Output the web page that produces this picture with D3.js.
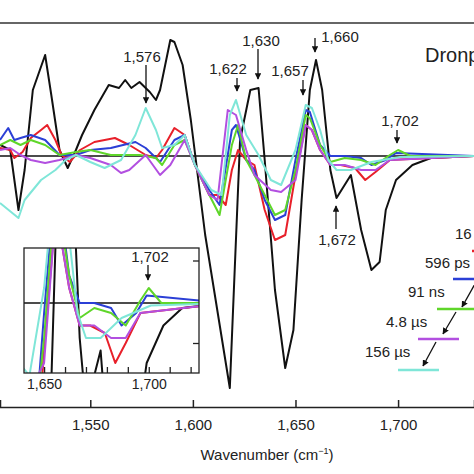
<!doctype html>
<html>
<head>
<script src="https://d3js.org/d3.v7.min.js"></script>
<style>
  body { margin: 0; background: #fff; }
  text { font-family: "Liberation Sans", Arial, sans-serif; fill: #222; }
</style>
</head>
<body>
<div id="chart"></div>
<script>
// spectra: wavenumber (cm-1) and difference signal (arb. units)
var blackW = [1506,1511,1515,1518,1522,1528,1531,1535,1539,1543,1546,1552,1559,1564,1567,1570,1574,1579,1582,1584,1589,1591,1595,1599,1606,1618,1623,1628,1632,1635,1640,1645,1649,1653,1657,1660,1663,1667,1670,1677,1682,1687,1691,1694,1699,1707,1716,1737];
var blackV = [1.1,0.6,-5.4,-1.4,6.6,10.1,6.1,0.6,-1.2,0.6,2.1,4.6,7.1,6.8,7.6,6.8,7.4,6.4,5.6,6.6,11.6,11.4,9.1,3.6,-7.9,-23.2,1.6,6.6,6.8,-0.4,-13.4,-21.2,-17.4,-4.4,6.6,9.6,6.6,-1.4,-4.2,-1.9,-7.4,-11.4,-10.6,-5.4,-2.4,-0.9,-0.2,0];
var redW = [1506,1511,1513,1517,1521,1526,1529,1533,1536,1540,1545,1552,1562,1569,1577,1582,1585,1591,1596,1601,1608,1612,1616,1619,1622,1626,1630,1635,1640,1645,1650,1655,1658,1662,1667,1672,1679,1684,1689,1696,1737];
var redV = [0.8,0.6,-0.2,0.4,1.8,2.6,3.1,1.6,0.1,-0.6,0.6,1.4,1.8,1.1,0.1,-0.2,0.6,2.8,2.1,-0.9,-3.9,-3.9,-4.9,-1.4,0.6,-0.4,-0.9,-5.4,-8.4,-7.9,-1.9,3.1,2.6,0.6,-0.9,-0.9,-1.2,-2.4,-1.6,-0.4,0];
var blueW = [1506,1510,1513,1516,1521,1528,1535,1543,1550,1560,1572,1577,1584,1591,1596,1601,1608,1613,1619,1621,1626,1630,1635,1640,1645,1650,1655,1657,1662,1667,1674,1682,1687,1694,1699,1737];
var blueV = [1.6,2.8,1.6,1.8,2.1,1.6,0.1,0.1,0.6,0.8,1.4,0.8,-0.6,1.6,2.1,-0.9,-3.4,-4.9,2.6,3.1,-0.4,-1.4,-4.4,-6.4,-5.9,-0.4,4.6,4.4,1.1,0,0,-0.2,-0.9,-0.4,0.3,0];
var greenW = [1506,1511,1516,1521,1528,1535,1543,1550,1560,1574,1582,1585,1591,1596,1601,1608,1613,1619,1622,1626,1630,1635,1640,1645,1650,1655,1657,1662,1667,1674,1682,1689,1696,1700,1706,1737];
var greenV = [1.1,1.6,1.1,1.6,1.1,0.1,0.4,0.6,0.1,0.1,-0.2,-0.9,1.1,1.6,-0.9,-3.9,-5.9,1.1,3.1,-0.4,-1.9,-3.9,-5.9,-5.4,-1.4,4.1,3.8,1.1,-0.6,-0.2,-0.4,-0.9,0.1,0.6,0,0];
var purpleW = [1506,1511,1516,1521,1528,1535,1543,1550,1560,1565,1569,1577,1584,1589,1596,1601,1608,1612,1617,1621,1626,1630,1638,1643,1650,1655,1658,1662,1667,1674,1682,1689,1696,1737];
var purpleV = [0.6,0.8,0.1,-0.4,-0.7,-0.4,0.1,-0.2,-0.9,-1.7,-1.4,0.1,-1.9,-0.9,1.6,-0.9,-3.9,-4.4,4.6,4.1,0.6,-1.9,-3.4,-3.6,-2.4,3.1,2.6,0.6,-0.9,-0.9,-1.4,-1.4,-0.4,0];
var cyanW = [1506,1515,1518,1526,1533,1538,1543,1550,1557,1565,1572,1577,1582,1585,1591,1596,1601,1609,1614,1618,1621,1626,1632,1638,1643,1650,1655,1658,1662,1666,1670,1677,1687,1701,1737];
var cyanV = [-4.7,-6.2,-4.4,-2.4,-1.4,-0.4,0.1,-0.6,-1.2,-0.4,2.1,4.8,2.6,0.8,1.1,2.1,-0.9,-3.4,-3.9,4.1,5.6,2.1,0.1,-2.4,-2.9,0.6,5.1,4.8,2.6,-0.4,-1.4,-1.4,-0.6,-0.1,0];

var xTicks = [1550, 1600, 1650, 1700];
var insetTicks = [1650, 1660, 1670, 1680, 1690, 1700, 1710, 1720];
var delayLabels = ["16 ps", "596 ps", "91 ns", "4.8 \u00b5s", "156 \u00b5s"];
var peaks = [
  {w: 1576, label: "1,576"}, {w: 1622, label: "1,622"}, {w: 1630, label: "1,630"},
  {w: 1657, label: "1,657"}, {w: 1660, label: "1,660"}, {w: 1702, label: "1,702"}, {w: 1672, label: "1,672"}
];

var series = [
  {w: blackW, v: blackV, color: "#111"},
  {w: redW, v: redV, color: "#e8202a"},
  {w: blueW, v: blueV, color: "#2b3fd6"},
  {w: greenW, v: greenV, color: "#5fd62a"},
  {w: purpleW, v: purpleV, color: "#b24fe0"},
  {w: cyanW, v: cyanV, color: "#7fe6d8"}
];

var W = 474, H = 474;
var svg = d3.select("#chart").append("svg").attr("width", W).attr("height", H);

var x = d3.scaleLinear().domain([1506, 1737]).range([0, 474]);
var y = d3.scaleLinear().domain([-25.1, 13.3]).range([407, 23]);

svg.append("clipPath").attr("id", "mainClip").append("rect")
  .attr("x", 0).attr("y", 23).attr("width", W).attr("height", 384);

// top frame line and zero line
svg.append("line").attr("x1", 0).attr("x2", W).attr("y1", 23).attr("y2", 23).attr("stroke", "#333").attr("stroke-width", 1.5);
svg.append("line").attr("x1", 0).attr("x2", W).attr("y1", y(0)).attr("y2", y(0)).attr("stroke", "#111").attr("stroke-width", 1.5);

function drawLines(g, xs, ys, clip) {
  series.forEach(function (s) {
    var pts = s.w.map(function (d, i) { return [d, s.v[i]]; });
    g.append("path").datum(pts)
      .attr("clip-path", "url(#" + clip + ")")
      .attr("fill", "none").attr("stroke", s.color).attr("stroke-width", 2).attr("stroke-linejoin", "round")
      .attr("d", d3.line().x(function (d) { return xs(d[0]); }).y(function (d) { return ys(d[1]); }));
  });
}
drawLines(svg.append("g"), x, y, "mainClip");

// bottom axis
var xAxis = svg.append("g").attr("transform", "translate(0,407)")
  .call(d3.axisBottom(x).tickValues(xTicks).tickSize(-7).tickPadding(12).tickFormat(d3.format(",")));
xAxis.select(".domain").attr("stroke", "#222").attr("stroke-width", 1.5);
xAxis.selectAll(".tick line").attr("stroke", "#222").attr("stroke-width", 1.5);
xAxis.selectAll("text").attr("font-size", 15).style("font-family", "Liberation Sans, Arial, sans-serif").attr("fill", "#222");

var t = svg.append("text").attr("x", 267).attr("y", 460).attr("text-anchor", "middle").attr("font-size", 15);
t.append("tspan").text("Wavenumber (cm");
t.append("tspan").attr("dy", -6).attr("font-size", 9).text("\u22121");
t.append("tspan").attr("dy", 6).text(")");

// peak annotations
var ann = [
  {lx: 142, ly: 62, ax: 146, a1: 65, a2: 103},
  {lx: 228, ly: 74, ax: 237, a1: 78, a2: 91},
  {lx: 261, ly: 46, ax: 258, a1: 49, a2: 79},
  {lx: 290, ly: 76, ax: 303, a1: 80, a2: 95},
  {lx: 340, ly: 42, ax: 315, a1: 38, a2: 52},
  {lx: 400, ly: 126, ax: 397, a1: 130, a2: 143},
  {lx: 337, ly: 245, ax: 336, a1: 229, a2: 206}
];
svg.append("defs").append("marker").attr("id", "ah").attr("viewBox", "0 0 10 10")
  .attr("refX", 9).attr("refY", 5).attr("markerWidth", 5).attr("markerHeight", 5).attr("orient", "auto")
  .append("path").attr("d", "M0,0L10,5L0,10z").attr("fill", "#111");
peaks.forEach(function (p, i) {
  var a = ann[i];
  svg.append("text").attr("x", a.lx).attr("y", a.ly).attr("text-anchor", "middle").attr("font-size", 15).text(p.label);
  svg.append("line").attr("x1", a.ax).attr("x2", a.ax).attr("y1", a.a1).attr("y2", a.a2)
    .attr("stroke", "#111").attr("stroke-width", 1.3).attr("marker-end", "url(#ah)");
});
svg.append("text").attr("x", 425).attr("y", 62).attr("font-size", 20).text("Dronpa");

// delay legend
var legPos = [
  {tx: 455, ty: 239, x1: 472, x2: 490, ly: 251},
  {tx: 425, ty: 268, x1: 453, x2: 490, ly: 279},
  {tx: 408, ty: 297, x1: 437, x2: 490, ly: 309},
  {tx: 386, ty: 327, x1: 418, x2: 459, ly: 339},
  {tx: 365, ty: 357, x1: 398, x2: 439, ly: 370}
];
delayLabels.forEach(function (d, i) {
  var p = legPos[i];
  svg.append("text").attr("x", p.tx).attr("y", p.ty).attr("font-size", 15).text(d);
  svg.append("line").attr("x1", p.x1).attr("x2", p.x2).attr("y1", p.ly).attr("y2", p.ly)
    .attr("stroke", series[i + 1].color).attr("stroke-width", 2.5);
});
[[476, 282, 462, 307], [456, 312, 443, 334], [436, 342, 423, 366]].forEach(function (a) {
  svg.append("line").attr("x1", a[0]).attr("y1", a[1]).attr("x2", a[2]).attr("y2", a[3])
    .attr("stroke", "#111").attr("stroke-width", 1.3).attr("marker-end", "url(#ah)");
});

// inset
var ix = d3.scaleLinear().domain([1640.4, 1724]).range([24, 199]);
var iy = d3.scaleLinear().domain([-2.8, 2.2]).range([373, 248]);
var ins = svg.append("g");
ins.append("rect").attr("x", 24).attr("y", 248).attr("width", 175).attr("height", 125).attr("fill", "#fff");
svg.append("clipPath").attr("id", "insetClip").append("rect")
  .attr("x", 24).attr("y", 248).attr("width", 175).attr("height", 125);
ins.append("line").attr("x1", 24).attr("x2", 199).attr("y1", iy(0)).attr("y2", iy(0)).attr("stroke", "#111").attr("stroke-width", 1.3);
drawLines(ins, ix, iy, "insetClip");
ins.append("rect").attr("x", 24).attr("y", 248).attr("width", 175).attr("height", 125)
  .attr("fill", "none").attr("stroke", "#222").attr("stroke-width", 1.3);
var ia = ins.append("g").attr("transform", "translate(0,373)")
  .call(d3.axisBottom(ix).tickValues(insetTicks).tickSize(-6).tickPadding(6).tickFormat(function (d) { return (d === 1650 || d === 1700) ? d3.format(",")(d) : ""; }));
ia.select(".domain").remove();
ia.selectAll(".tick line").attr("stroke", "#222").attr("stroke-width", 1.3);
ia.selectAll("text").attr("font-size", 14).style("font-family", "Liberation Sans, Arial, sans-serif").attr("fill", "#222");
var ra = ins.append("g").attr("transform", "translate(199,0)")
  .call(d3.axisLeft(iy).tickValues([-1.6, 1.7]).tickSize(6).tickFormat(""));
ra.select(".domain").remove();
ra.selectAll(".tick line").attr("stroke", "#222").attr("stroke-width", 1.3);
ins.append("text").attr("x", 150).attr("y", 262).attr("text-anchor", "middle").attr("font-size", 15).text("1,702");
ins.append("line").attr("x1", 148).attr("x2", 148).attr("y1", 265).attr("y2", 280)
  .attr("stroke", "#111").attr("stroke-width", 1.3).attr("marker-end", "url(#ah)");
</script>
</body>
</html>
